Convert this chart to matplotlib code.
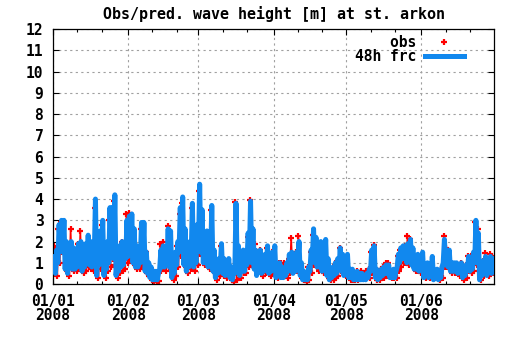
# Obs/pred. wave height at st. arkon, Jan-Jun 2008
# values: daily low / high of each band
import matplotlib
matplotlib.use('Agg')
import matplotlib.pyplot as plt
import matplotlib.dates as mdates
import pandas as pd

# 48h forecast, daily low and high
frc_lo_jan = [0.8, 0.5, 1.0, 1.6, 1.5, 0.7, 0.5, 0.9, 0.7, 0.7, 0.8, 1.0, 0.6, 0.8, 1.0, 0.9,
              0.8, 1.2, 0.4, 0.9, 1.3, 0.4, 0.7, 1.0, 1.5, 1.2, 0.4, 0.6, 0.8, 0.9, 1.2]
frc_hi_jan = [1.3, 1.6, 2.8, 3.0, 3.0, 2.0, 1.5, 2.0, 1.7, 1.4, 1.9, 2.0, 1.4, 1.9, 2.3, 2.0,
              1.5, 4.0, 1.7, 2.5, 3.0, 1.2, 2.0, 3.6, 3.6, 4.2, 1.0, 1.8, 2.0, 1.6, 3.0]
frc_lo_feb = [1.3, 1.5, 1.0, 0.8, 0.8, 1.0, 1.2, 0.6, 0.5, 0.3, 0.2, 0.2, 0.2, 0.7, 0.8,
              0.8, 1.0, 0.8, 0.3, 0.5, 0.9, 1.5, 1.6, 0.9, 0.6, 0.8, 1.3, 0.8, 1.0]
frc_hi_feb = [3.2, 3.3, 2.6, 1.8, 1.7, 2.9, 2.9, 1.5, 1.0, 0.8, 0.6, 0.6, 0.5, 1.6, 1.8,
              1.5, 2.6, 2.5, 0.9, 1.5, 2.0, 3.6, 4.1, 2.6, 1.4, 2.0, 3.8, 1.6, 2.8]
frc_lo_mar = [1.6, 1.5, 1.0, 1.0, 0.8, 1.0, 0.6, 0.3, 0.5, 0.8, 0.5, 0.4, 0.5, 0.3, 0.2, 0.5,
              0.8, 0.4, 0.6, 0.6, 0.9, 1.2, 1.0, 0.7, 0.4, 0.6, 0.5, 0.6, 0.8, 0.5, 0.6]
frc_hi_mar = [4.7, 3.5, 2.2, 2.5, 1.8, 3.7, 1.6, 1.0, 1.2, 1.9, 1.2, 0.9, 1.2, 0.8, 0.6, 3.8,
              1.8, 1.2, 1.6, 1.4, 2.4, 3.9, 2.6, 1.6, 1.0, 1.6, 1.2, 1.4, 1.8, 1.3, 1.5]
frc_lo_apr = [0.8, 0.3, 0.4, 0.3, 0.3, 0.4, 0.6, 0.7, 0.5, 0.6, 0.9, 0.4, 0.2, 0.2, 0.2,
              0.6, 1.2, 1.0, 0.8, 0.8, 0.6, 0.8, 0.4, 0.2, 0.3, 0.4, 0.5, 0.7, 0.6, 0.4]
frc_hi_apr = [1.8, 0.8, 1.0, 0.8, 0.7, 1.0, 1.4, 1.5, 1.2, 1.5, 2.0, 1.0, 0.6, 0.5, 0.8,
              1.6, 2.6, 2.2, 1.8, 2.0, 1.7, 2.1, 1.2, 0.6, 0.8, 1.0, 1.2, 1.7, 1.4, 1.0]
frc_lo_may = [0.6, 0.3, 0.3, 0.2, 0.2, 0.2, 0.2, 0.2, 0.2, 0.3, 0.6, 0.8, 0.3, 0.2, 0.3, 0.4,
              0.5, 0.5, 0.3, 0.3, 0.3, 0.8, 1.0, 1.2, 1.2, 1.0, 1.2, 0.9, 0.7, 0.7, 0.6]
frc_hi_may = [1.4, 0.7, 0.7, 0.5, 0.6, 0.5, 0.5, 0.4, 0.5, 0.7, 1.6, 1.8, 0.7, 0.5, 0.7, 0.8,
              0.9, 0.9, 0.6, 0.7, 0.6, 1.4, 1.7, 1.8, 1.8, 1.9, 2.1, 1.7, 1.3, 1.4, 1.1]
frc_lo_jun = [0.8, 0.3, 0.4, 0.3, 0.6, 0.2, 0.3, 0.2, 0.3, 1.0, 0.9, 0.8, 0.6, 0.6, 0.6,
              0.5, 0.6, 0.3, 0.4, 0.7, 0.6, 0.7, 1.0, 1.0, 0.2, 0.4, 0.6, 0.4, 0.6, 0.5]
frc_hi_jun = [1.5, 0.8, 1.0, 0.6, 1.3, 0.6, 0.7, 0.5, 0.8, 2.1, 1.6, 1.6, 1.0, 1.0, 1.0,
              0.9, 1.0, 0.7, 0.9, 1.3, 1.1, 1.5, 3.0, 2.4, 0.8, 1.1, 1.3, 0.9, 1.3, 1.2]

# observations, daily low and high
obs_lo_jan = [0.6, 0.4, 1.0, 1.5, 1.4, 0.6, 0.4, 0.8, 0.6, 0.6, 0.7, 0.9, 0.5, 0.6, 0.8, 0.7,
              0.6, 0.9, 0.3, 0.7, 1.0, 0.3, 0.6, 0.8, 1.2, 0.9, 0.3, 0.5, 0.6, 0.7, 1.0]
obs_hi_jan = [1.8, 1.6, 2.6, 2.9, 2.8, 1.8, 1.4, 2.6, 1.6, 1.4, 1.9, 2.5, 1.3, 1.8, 2.0, 1.8,
              1.4, 3.6, 1.5, 2.3, 2.8, 1.1, 1.8, 3.0, 3.5, 3.9, 0.9, 1.7, 2.0, 1.5, 3.3]
obs_lo_feb = [1.2, 1.2, 0.9, 0.7, 0.7, 0.9, 1.0, 0.5, 0.4, 0.2, 0.1, 0.15, 0.15, 0.6, 0.7,
              0.6, 0.9, 0.7, 0.2, 0.4, 0.8, 1.3, 1.4, 0.8, 0.5, 0.7, 1.1, 0.6, 0.9]
obs_hi_feb = [3.35, 3.1, 2.4, 1.8, 1.6, 2.6, 2.8, 1.5, 0.9, 0.7, 0.6, 0.5, 0.5, 1.9, 2.0,
              1.4, 2.75, 2.3, 0.8, 1.4, 1.8, 3.3, 3.8, 2.4, 1.3, 1.8, 3.6, 1.5, 2.6]
obs_lo_mar = [1.4, 1.3, 0.9, 0.9, 0.7, 0.9, 0.5, 0.2, 0.4, 0.7, 0.4, 0.3, 0.4, 0.2, 0.1, 0.2,
              0.7, 0.3, 0.5, 0.5, 0.8, 1.0, 0.9, 0.8, 0.7, 0.8, 0.4, 0.5, 0.7, 0.4, 0.5]
obs_hi_mar = [4.4, 3.3, 2.1, 2.4, 1.7, 3.5, 1.5, 0.9, 1.1, 1.8, 1.1, 0.8, 1.1, 0.7, 0.5, 3.85,
              1.7, 1.1, 1.5, 1.3, 2.2, 3.95, 2.5, 1.9, 1.5, 1.6, 1.1, 1.3, 1.7, 1.2, 1.4]
obs_lo_apr = [0.6, 0.3, 0.4, 0.5, 0.6, 0.3, 0.5, 0.9, 0.6, 0.6, 0.8, 0.3, 0.2, 0.1, 0.2,
              0.5, 0.9, 0.8, 0.6, 0.7, 0.5, 0.7, 0.3, 0.2, 0.2, 0.3, 0.4, 0.7, 0.5, 0.4]
obs_hi_apr = [1.6, 0.8, 1.0, 1.0, 1.0, 0.9, 1.2, 2.15, 1.3, 1.5, 2.25, 0.9, 0.5, 0.4, 0.8,
              1.5, 2.3, 2.0, 1.7, 1.9, 1.5, 1.9, 1.1, 0.5, 0.7, 0.9, 1.1, 1.7, 1.3, 0.9]
obs_lo_may = [0.5, 0.2, 0.2, 0.2, 0.2, 0.3, 0.3, 0.3, 0.3, 0.3, 0.5, 0.7, 0.2, 0.2, 0.3, 0.3,
              0.4, 0.5, 0.3, 0.3, 0.3, 0.6, 0.8, 1.0, 1.0, 0.9, 1.0, 0.8, 0.6, 0.6, 0.5]
obs_hi_may = [1.3, 0.6, 0.6, 0.5, 0.6, 0.5, 0.6, 0.5, 0.6, 0.7, 1.5, 1.85, 0.6, 0.4, 0.7, 0.8,
              1.0, 1.0, 0.6, 0.6, 0.6, 1.3, 1.6, 1.7, 1.8, 2.25, 2.1, 1.6, 1.2, 1.1, 1.0]
obs_lo_jun = [0.6, 0.3, 0.4, 0.3, 0.5, 0.3, 0.3, 0.2, 0.3, 0.8, 0.8, 0.7, 0.5, 0.5, 0.5,
              0.4, 0.5, 0.2, 0.3, 0.6, 0.5, 0.6, 0.9, 0.9, 0.2, 0.4, 0.6, 0.4, 0.5, 0.5]
obs_hi_jun = [1.3, 0.7, 0.9, 0.8, 0.9, 0.5, 0.6, 0.4, 0.7, 2.25, 1.7, 1.3, 1.0, 0.9, 0.9,
              0.8, 1.0, 0.7, 0.9, 1.3, 1.2, 1.4, 2.9, 2.6, 0.8, 1.1, 1.45, 1.0, 1.4, 1.3]

frc_lo = frc_lo_jan + frc_lo_feb + frc_lo_mar + frc_lo_apr + frc_lo_may + frc_lo_jun
frc_hi = frc_hi_jan + frc_hi_feb + frc_hi_mar + frc_hi_apr + frc_hi_may + frc_hi_jun
obs_lo = obs_lo_jan + obs_lo_feb + obs_lo_mar + obs_lo_apr + obs_lo_may + obs_lo_jun
obs_hi = obs_hi_jan + obs_hi_feb + obs_hi_mar + obs_hi_apr + obs_hi_may + obs_hi_jun

days = pd.date_range('2008-01-01', periods=len(frc_lo), freq='D')

# two readings a day: forecast low at 00h / high at 12h, obs high at 06h / low at 18h
frc = pd.concat([pd.Series(frc_lo, index=days),
                 pd.Series(frc_hi, index=days + pd.Timedelta(hours=12))]).sort_index()
obs = pd.concat([pd.Series(obs_hi, index=days + pd.Timedelta(hours=6)),
                 pd.Series(obs_lo, index=days + pd.Timedelta(hours=18))]).sort_index()

FS = 10.5
plt.rcParams['font.family'] = 'DejaVu Sans Mono'
plt.rcParams['font.size'] = FS
plt.rcParams['font.weight'] = 'bold'

fig = plt.figure(figsize=(5.2, 3.6), dpi=100)
ax = fig.add_axes([0.102, 0.211, 0.848, 0.708])

red = '#ff0000'
blue = '#1188ee'
ax.plot(obs.index, obs.values, color=red, linewidth=1.2, zorder=2)
ax.plot(obs.index, obs.values, linestyle='none', marker='+', markersize=4.5,
        markeredgewidth=1.6, color=red, zorder=2)
ax.plot(frc.index, frc.values, color=blue, linewidth=3.6, zorder=3)

ax.set_xlim(pd.Timestamp('2008-01-01'), pd.Timestamp('2008-06-30 23:00'))
ax.set_ylim(0, 12)
ax.set_yticks(range(0, 13))

ax.xaxis.set_major_locator(mdates.MonthLocator())
ax.xaxis.set_minor_locator(mdates.DayLocator(bymonthday=[11, 21]))
ax.xaxis.set_major_formatter(mdates.DateFormatter('%d/%m\n%Y'))

ax.tick_params(which='both', direction='in', top=True, right=True, width=0.8)
ax.tick_params(which='major', length=4.5)
ax.tick_params(which='minor', length=2.5)
ax.tick_params(axis='y', pad=7)
ax.tick_params(axis='x', pad=7)
for lab in ax.get_xticklabels():
    lab.set_linespacing(0.95)

ax.grid(True, which='major', color='#a0a0a0', linestyle=(0, (2, 3)), linewidth=0.8)
ax.set_axisbelow(True)
for s in ax.spines.values():
    s.set_linewidth(0.9)

ax.set_title('Obs/pred. wave height [m] at st. arkon', fontsize=10.8,
             fontweight='bold', pad=7)

# legend entries (gnuplot style: right-aligned text, sample on the right)
h_obs, = ax.plot([], [], linestyle='none', marker='+', markersize=4.5,
                 markeredgewidth=1.6, color=red)
h_frc, = ax.plot([], [], color=blue, linewidth=3.6)
ax.legend([h_obs, h_frc], ['    obs', '48h frc'], loc='upper right',
          bbox_to_anchor=(0.955, 1.016), frameon=False, markerfirst=False,
          handlelength=2.7, handletextpad=0.6, labelspacing=-0.1,
          borderaxespad=0.3, fontsize=FS)

fig.savefig('out.png', dpi=100)
